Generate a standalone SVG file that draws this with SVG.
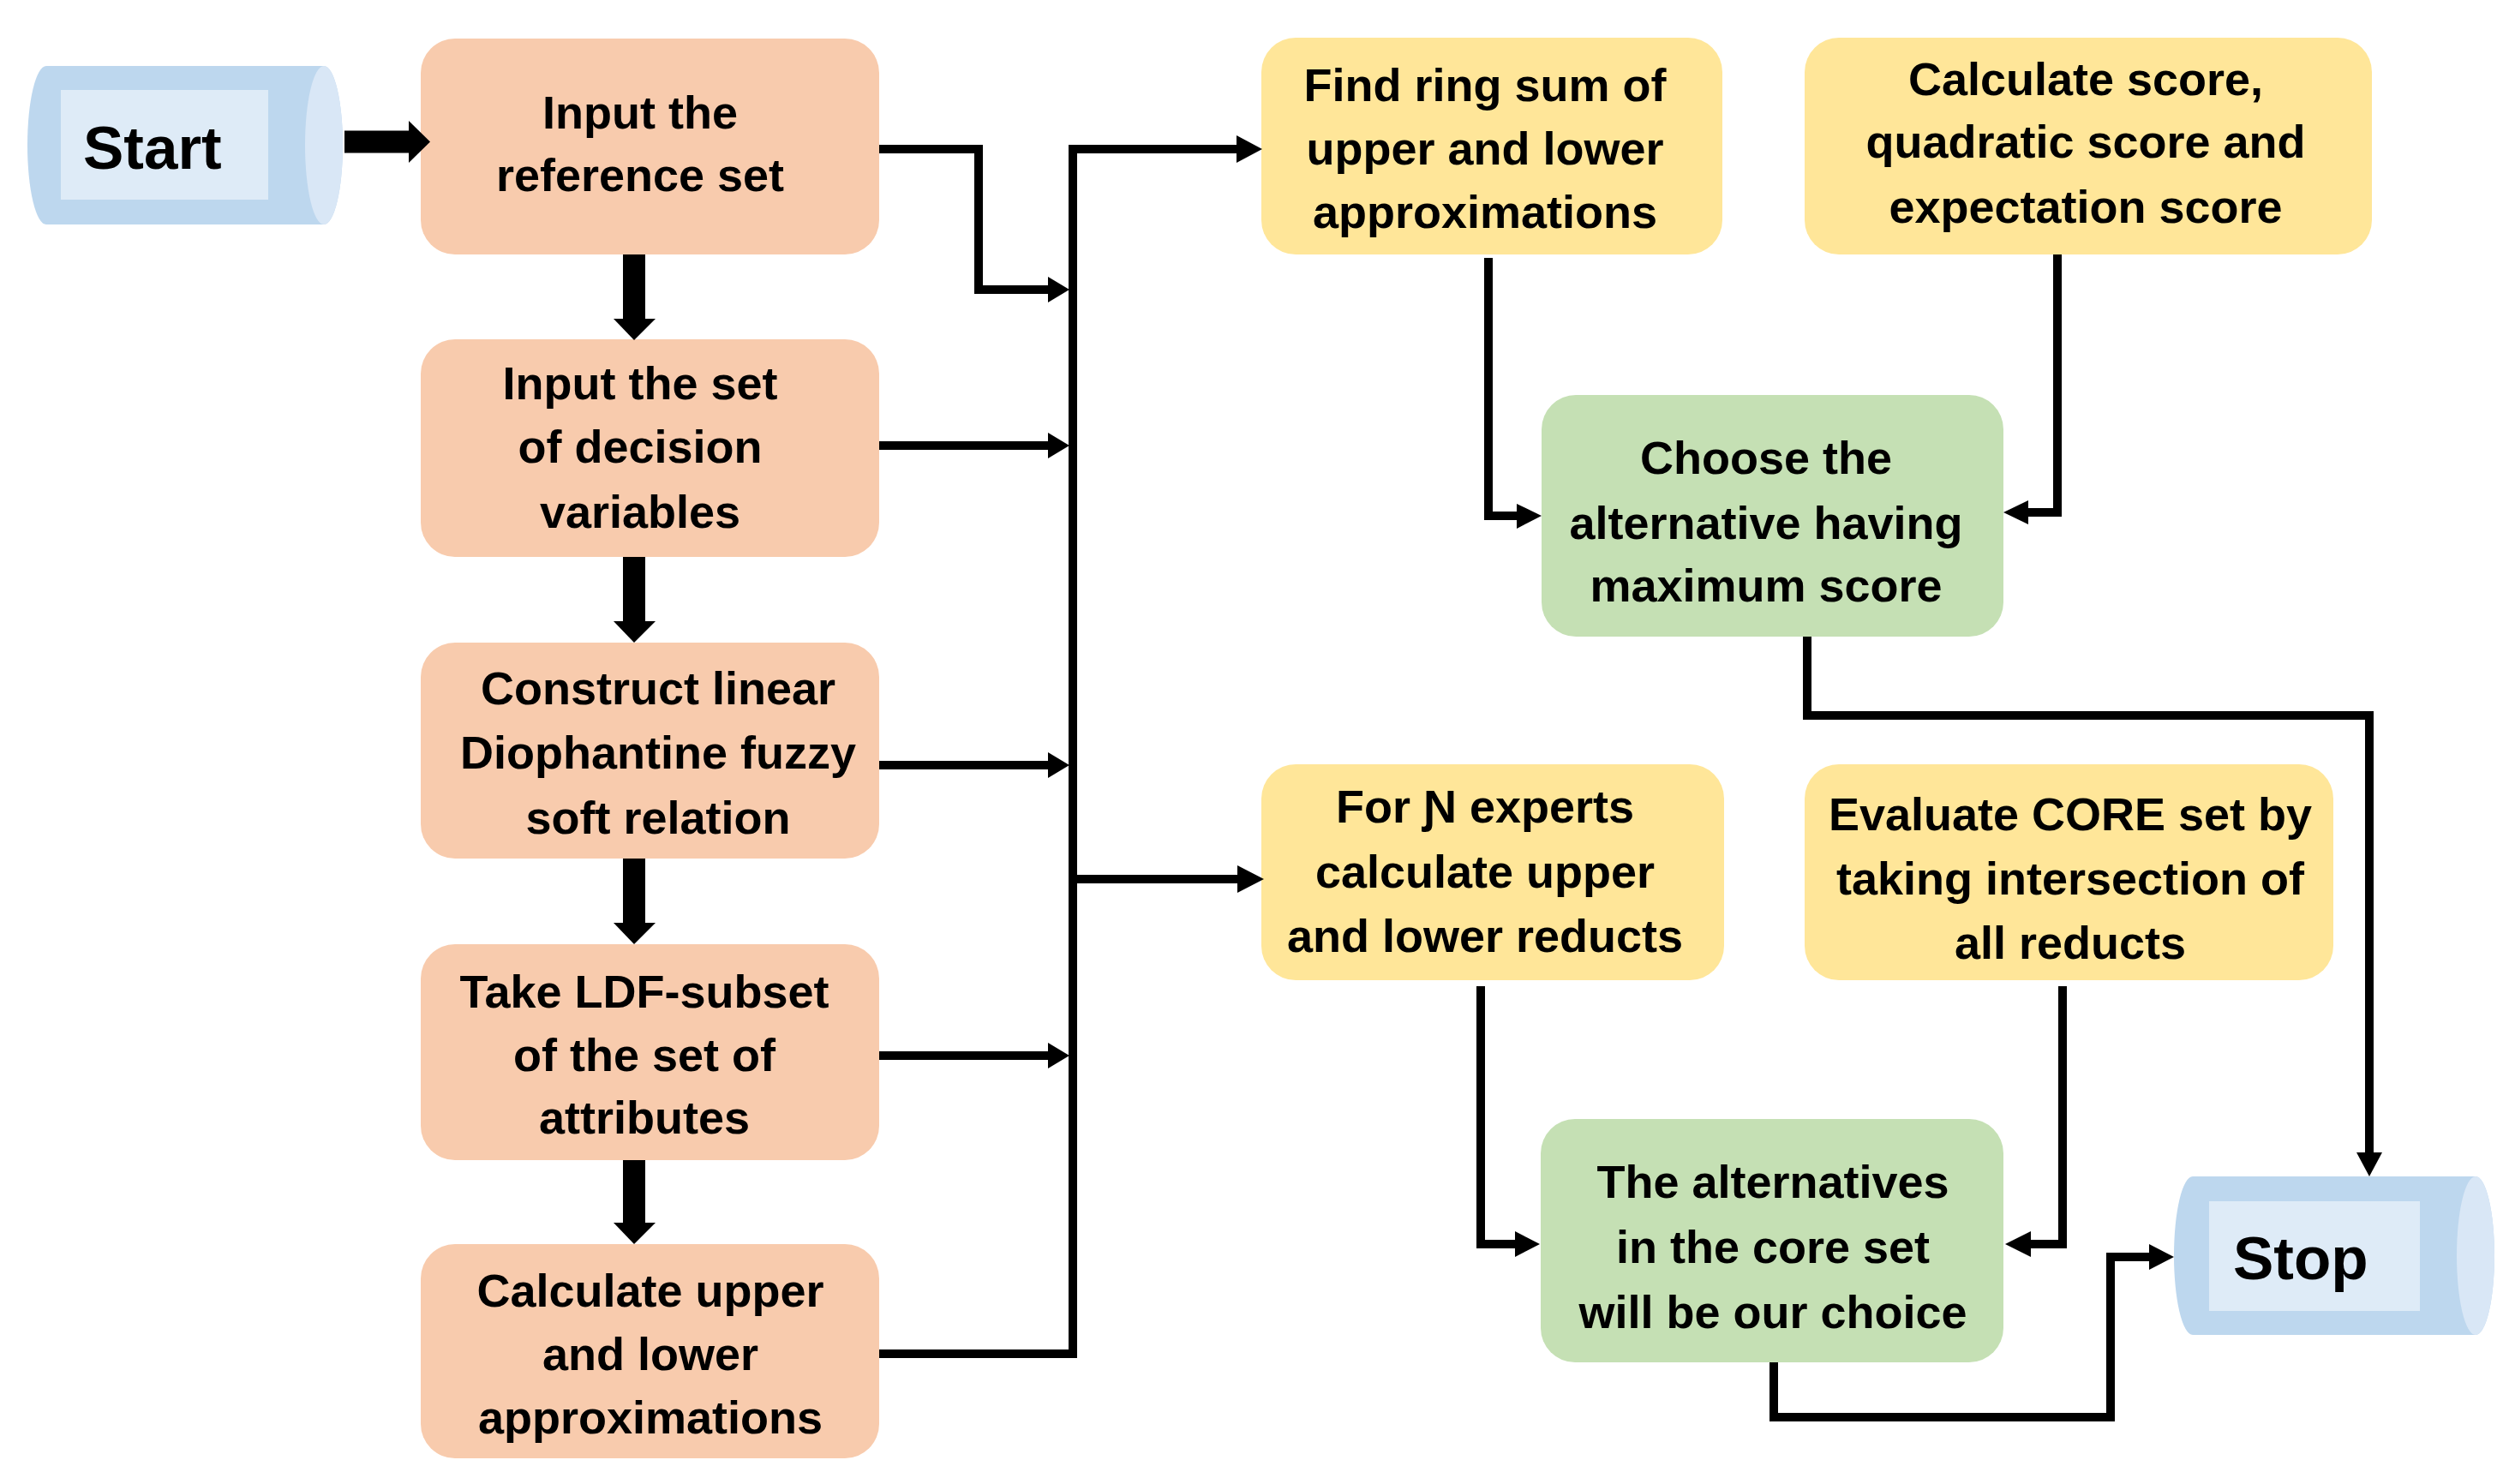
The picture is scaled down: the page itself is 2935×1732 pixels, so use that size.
<svg xmlns="http://www.w3.org/2000/svg" width="2935" height="1732" viewBox="0 0 2935 1732">
<style>
.orange{fill:#F8CBAD}
.yellow{fill:#FFE699}
.green{fill:#C5E0B4}
.cylbody{fill:#BDD7EE}
.cylcap{fill:#D9E7F6}
.cylin{fill:#DEEBF7}
text{font-family:"Liberation Sans",Arial,sans-serif;font-weight:bold;fill:#000}
.t{font-size:54px;text-anchor:middle}
.big{font-size:71px}
.thin{fill:none;stroke:#000;stroke-width:10;stroke-linejoin:miter}
.thick{fill:none;stroke:#000;stroke-width:26}
.head{fill:#000}
</style>
<rect width="2935" height="1732" fill="#fff"/>

<g id="start">
<path class="cylbody" d="M54,77 H378 A22,92.5 0 0 1 378,262 H54 A22,92.5 0 0 1 54,77 Z"/>
<ellipse class="cylcap" cx="378" cy="169.5" rx="22" ry="92.5"/>
<rect class="cylin" x="71" y="105" width="242" height="128"/>
<text class="big" x="97" y="197">Start</text>
</g>

<g id="stop">
<path class="cylbody" d="M2559,1373 H2889 A22,92.5 0 0 1 2889,1558 H2559 A22,92.5 0 0 1 2559,1373 Z"/>
<ellipse class="cylcap" cx="2889" cy="1465.5" rx="22" ry="92.5"/>
<rect class="cylin" x="2578" y="1402" width="246" height="128"/>
<text class="big" x="2606" y="1493">Stop</text>
</g>

<g id="ref">
<rect class="orange" x="491" y="45" width="535" height="252" rx="40"/>
<text class="t" x="747" y="150">Input the</text>
<text class="t" x="747" y="223">reference set</text>
</g>

<g id="decision">
<rect class="orange" x="491" y="396" width="535" height="254" rx="40"/>
<text class="t" x="747" y="466">Input the set</text>
<text class="t" x="747" y="540">of decision</text>
<text class="t" x="747" y="616">variables</text>
</g>

<g id="construct">
<rect class="orange" x="491" y="750" width="535" height="252" rx="40"/>
<text class="t" x="768" y="822">Construct linear</text>
<text class="t" x="768" y="897">Diophantine fuzzy</text>
<text class="t" x="768" y="973">soft relation</text>
</g>

<g id="ldf">
<rect class="orange" x="491" y="1102" width="535" height="252" rx="40"/>
<text class="t" x="752" y="1176">Take LDF-subset</text>
<text class="t" x="752" y="1250">of the set of</text>
<text class="t" x="752" y="1323">attributes</text>
</g>

<g id="calcapprox">
<rect class="orange" x="491" y="1452" width="535" height="250" rx="40"/>
<text class="t" x="759" y="1525">Calculate upper</text>
<text class="t" x="759" y="1599">and lower</text>
<text class="t" x="759" y="1673">approximations</text>
</g>

<g id="ringsum">
<rect class="yellow" x="1472" y="44" width="538" height="253" rx="40"/>
<text class="t" x="1733" y="118">Find ring sum of</text>
<text class="t" x="1733" y="192">upper and lower</text>
<text class="t" x="1733" y="266">approximations</text>
</g>

<g id="score">
<rect class="yellow" x="2106" y="44" width="662" height="253" rx="40"/>
<text class="t" x="2434" y="111">Calculate score,</text>
<text class="t" x="2434" y="184">quadratic score and</text>
<text class="t" x="2434" y="260">expectation score</text>
</g>

<g id="choose">
<rect class="green" x="1799" y="461" width="539" height="282" rx="40"/>
<text class="t" x="2061" y="553">Choose the</text>
<text class="t" x="2061" y="629">alternative having</text>
<text class="t" x="2061" y="702">maximum score</text>
</g>

<g id="experts">
<rect class="yellow" x="1472" y="892" width="540" height="252" rx="40"/>
<text class="t" x="1733" y="960">For Ɲ experts</text>
<text class="t" x="1733" y="1036">calculate upper</text>
<text class="t" x="1733" y="1111">and lower reducts</text>
</g>

<g id="core">
<rect class="yellow" x="2106" y="892" width="617" height="252" rx="40"/>
<text class="t" x="2416" y="969">Evaluate CORE set by</text>
<text class="t" x="2416" y="1044">taking intersection of</text>
<text class="t" x="2416" y="1119">all reducts</text>
</g>

<g id="alternatives">
<rect class="green" x="1798" y="1306" width="540" height="284" rx="40"/>
<text class="t" x="2069" y="1398">The alternatives</text>
<text class="t" x="2069" y="1474">in the core set</text>
<text class="t" x="2069" y="1550">will be our choice</text>
</g>

<g id="connectors">
<!-- thick arrows -->
<path class="thick" d="M402,165.5 H478"/>
<polygon class="head" points="477,141 502,165.5 477,190"/>
<path class="thick" d="M740,297 V373"/>
<polygon class="head" points="716,372 765,372 740,397"/>
<path class="thick" d="M740,650 V726"/>
<polygon class="head" points="716,725 765,725 740,750"/>
<path class="thick" d="M740,1002 V1078"/>
<polygon class="head" points="716,1077 765,1077 740,1102"/>
<path class="thick" d="M740,1354 V1428"/>
<polygon class="head" points="716,1427 765,1427 740,1452"/>

<!-- bus and feeds -->
<path class="thin" d="M1026,174 H1142 V338 H1226"/>
<polygon class="head" points="1223,323 1248,338 1223,353"/>
<path class="thin" d="M1026,1580 H1252 V174 H1446"/>
<polygon class="head" points="1443,158 1473,174 1443,190"/>
<path class="thin" d="M1026,520 H1226"/>
<polygon class="head" points="1223,505 1248,520 1223,535"/>
<path class="thin" d="M1026,893 H1226"/>
<polygon class="head" points="1223,878 1248,893 1223,908"/>
<path class="thin" d="M1026,1232 H1226"/>
<polygon class="head" points="1223,1217 1248,1232 1223,1247"/>
<path class="thin" d="M1252,1026 H1447"/>
<polygon class="head" points="1444,1010 1475,1026 1444,1042"/>

<!-- right side -->
<path class="thin" d="M1737,301 V602 H1772"/>
<polygon class="head" points="1770,588 1799,602 1770,617"/>
<path class="thin" d="M2401,297 V598 H2365"/>
<polygon class="head" points="2367,584 2338,598 2367,612"/>
<path class="thin" d="M2109,743 V835 H2765 V1347"/>
<polygon class="head" points="2750,1345 2780,1345 2765,1373"/>
<path class="thin" d="M1728,1151 V1452 H1771"/>
<polygon class="head" points="1768,1437 1797,1452 1768,1467"/>
<path class="thin" d="M2407,1151 V1452 H2368"/>
<polygon class="head" points="2370,1437 2340,1452 2370,1467"/>
<path class="thin" d="M2070,1590 V1654 H2463 V1467 H2510"/>
<polygon class="head" points="2508,1452 2537,1467 2508,1482"/>
</g>
</svg>
